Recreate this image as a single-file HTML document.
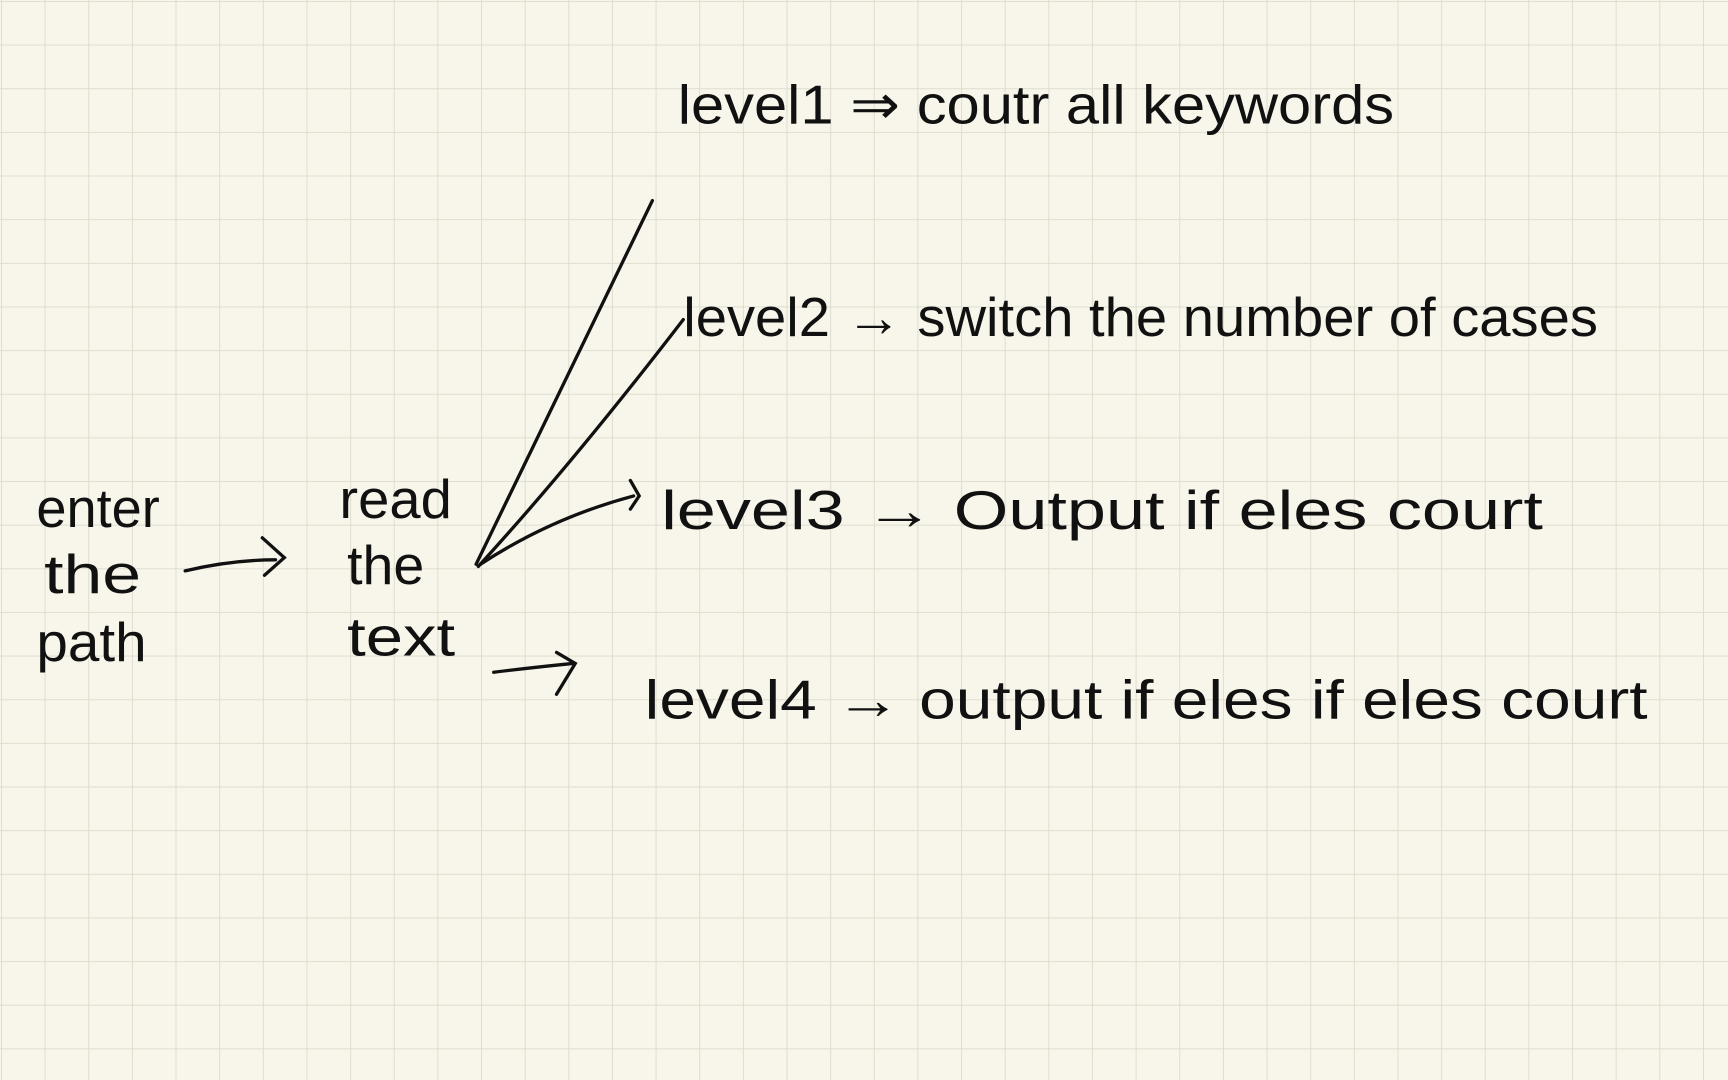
<!DOCTYPE html>
<html><head><meta charset="utf-8"><style>
html,body{margin:0;padding:0;background:#f8f6ea;}
svg{display:block}
text{font-family:"Liberation Sans",sans-serif;fill:#111;}
</style></head><body>
<svg width="1728" height="1080" viewBox="0 0 1568 980" preserveAspectRatio="none">
<defs>
<pattern id="g" x="0.9" y="0.9" width="39.6" height="39.6" patternUnits="userSpaceOnUse">
<path d="M0 0V39.6M0 0H39.6" stroke="#dcdacd" stroke-width="1.6" fill="none"/>
</pattern>
</defs>
<rect width="1568" height="980" fill="#f8f6ea"/>
<rect width="1568" height="980" fill="url(#g)"/>
<g font-size="50">
<text x="615" y="112" textLength="650" lengthAdjust="spacingAndGlyphs">level1 ⇒ coutr all keywords</text>
<text x="620" y="305" textLength="830" lengthAdjust="spacingAndGlyphs">level2 → switch the number of cases</text>
<text x="600" y="480" textLength="800" lengthAdjust="spacingAndGlyphs">level3 → Output if eles court</text>
<text x="585" y="652" textLength="910" lengthAdjust="spacingAndGlyphs">level4 → output if eles if eles court</text>
<text x="33" y="478" textLength="112" lengthAdjust="spacingAndGlyphs">enter</text>
<text x="40" y="538" textLength="88" lengthAdjust="spacingAndGlyphs">the</text>
<text x="33" y="600" textLength="100" lengthAdjust="spacingAndGlyphs">path</text>
<text x="308" y="470" textLength="102" lengthAdjust="spacingAndGlyphs">read</text>
<text x="315" y="530" textLength="70" lengthAdjust="spacingAndGlyphs">the</text>
<text x="315" y="595" textLength="98" lengthAdjust="spacingAndGlyphs">text</text>
</g>
<g stroke="#111" stroke-width="3" fill="none" stroke-linecap="round">
<path d="M168 518 Q210 508 250 508 M238 488 L258 506 L240 522"/>
<path d="M448 610 Q480 606 520 602 M505 592 L522 602 L505 630"/>
<path d="M432 512 L592 182"/>
<path d="M434 514 Q520 420 620 290"/>
<path d="M436 512 Q500 470 575 450 M572 436 L580 450 L572 462"/>
</g>
</svg>
</body></html>
